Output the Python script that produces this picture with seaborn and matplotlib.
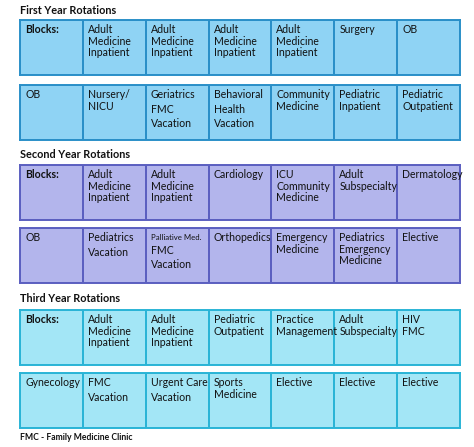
import numpy as np
import matplotlib
matplotlib.use("Agg")
import matplotlib.pyplot as plt
from matplotlib.colors import ListedColormap
import seaborn as sns

titles = ["First Year Rotations", "Second Year Rotations", "Third Year Rotations"]
year1_row1 = ["Blocks:", "Adult\nMedicine\nInpatient", "Adult\nMedicine\nInpatient", "Adult\nMedicine\nInpatient", "Adult\nMedicine\nInpatient", "Surgery", "OB"]
year1_row2 = ["OB", "Nursery/\nNICU", "Geriatrics\nFMC\nVacation", "Behavioral\nHealth\nVacation", "Community\nMedicine", "Pediatric\nInpatient", "Pediatric\nOutpatient"]
year2_row1 = ["Blocks:", "Adult\nMedicine\nInpatient", "Adult\nMedicine\nInpatient", "Cardiology", "ICU\nCommunity\nMedicine", "Adult\nSubspecialty", "Dermatology"]
year2_row2 = ["OB", "Pediatrics\nVacation", "Palliative Med.\nFMC\nVacation", "Orthopedics", "Emergency\nMedicine", "Pediatrics\nEmergency\nMedicine", "Elective"]
year3_row1 = ["Blocks:", "Adult\nMedicine\nInpatient", "Adult\nMedicine\nInpatient", "Pediatric\nOutpatient", "Practice\nManagement", "Adult\nSubspecialty", "HIV\nFMC"]
year3_row2 = ["Gynecology", "FMC\nVacation", "Urgent Care\nVacation", "Sports\nMedicine", "Elective", "Elective", "Elective"]
footer = "FMC - Family Medicine Clinic"

rows = [year1_row1, year1_row2, year2_row1, year2_row2, year3_row1, year3_row2]
fills = ["#8fd3f4", "#8fd3f4", "#b3b5ec", "#b3b5ec", "#a3e6f6", "#a3e6f6"]
edges = ["#2a8fc8", "#2a8fc8", "#5b5fc0", "#5b5fc0", "#2ab4d6", "#2ab4d6"]
row_px = [(20, 75), (85, 140), (165, 220), (228, 283), (310, 365), (373, 428)]
title_px = [10, 155, 299]

W, H = 474, 447
fig = plt.figure(figsize=(W / 100, H / 100), dpi=100)
plt.rcParams['font.family'] = ['Lato', 'DejaVu Sans']
x0, x1 = 20, 460

for labels, fc, ec, (top, bot) in zip(rows, fills, edges, row_px):
    ax = fig.add_axes([x0 / W, 1 - bot / H, (x1 - x0) / W, (bot - top) / H])
    data = np.zeros((1, len(labels)))
    sns.heatmap(data, ax=ax, cmap=ListedColormap([fc]), cbar=False,
                linewidths=1.3, linecolor=ec, xticklabels=False, yticklabels=False)
    for s in ax.spines.values():
        s.set_visible(True)
        s.set_edgecolor(ec)
        s.set_linewidth(1.4)
    for j, lab in enumerate(labels):
        ls = 1.35 if ("Vacation" in lab and "\n" in lab) else 1.05
        if lab.startswith("Palliative"):
            first, rest = lab.split("\n", 1)
            ax.text(j + 0.08, 0.10, first, ha="left", va="top", fontsize=5.6, color="#111111")
            ax.text(j + 0.08, 0.30, rest, ha="left", va="top", fontsize=7.6,
                    linespacing=1.35, color="#111111")
            continue
        ax.text(j + 0.08, 0.08, lab, ha="left", va="top", fontsize=7.6, linespacing=ls,
                fontweight="bold" if lab == "Blocks:" else "normal", color="#111111")

for t, y in zip(titles, title_px):
    fig.text(x0 / W, 1 - y / H, t, fontsize=7.8, fontweight="bold", va="center", ha="left", color="#111111")
fig.text(x0 / W, 1 - 438 / H, footer, fontsize=6.2, fontweight="bold", va="center", ha="left", color="#111111")

fig.savefig("out.png", dpi=100)
